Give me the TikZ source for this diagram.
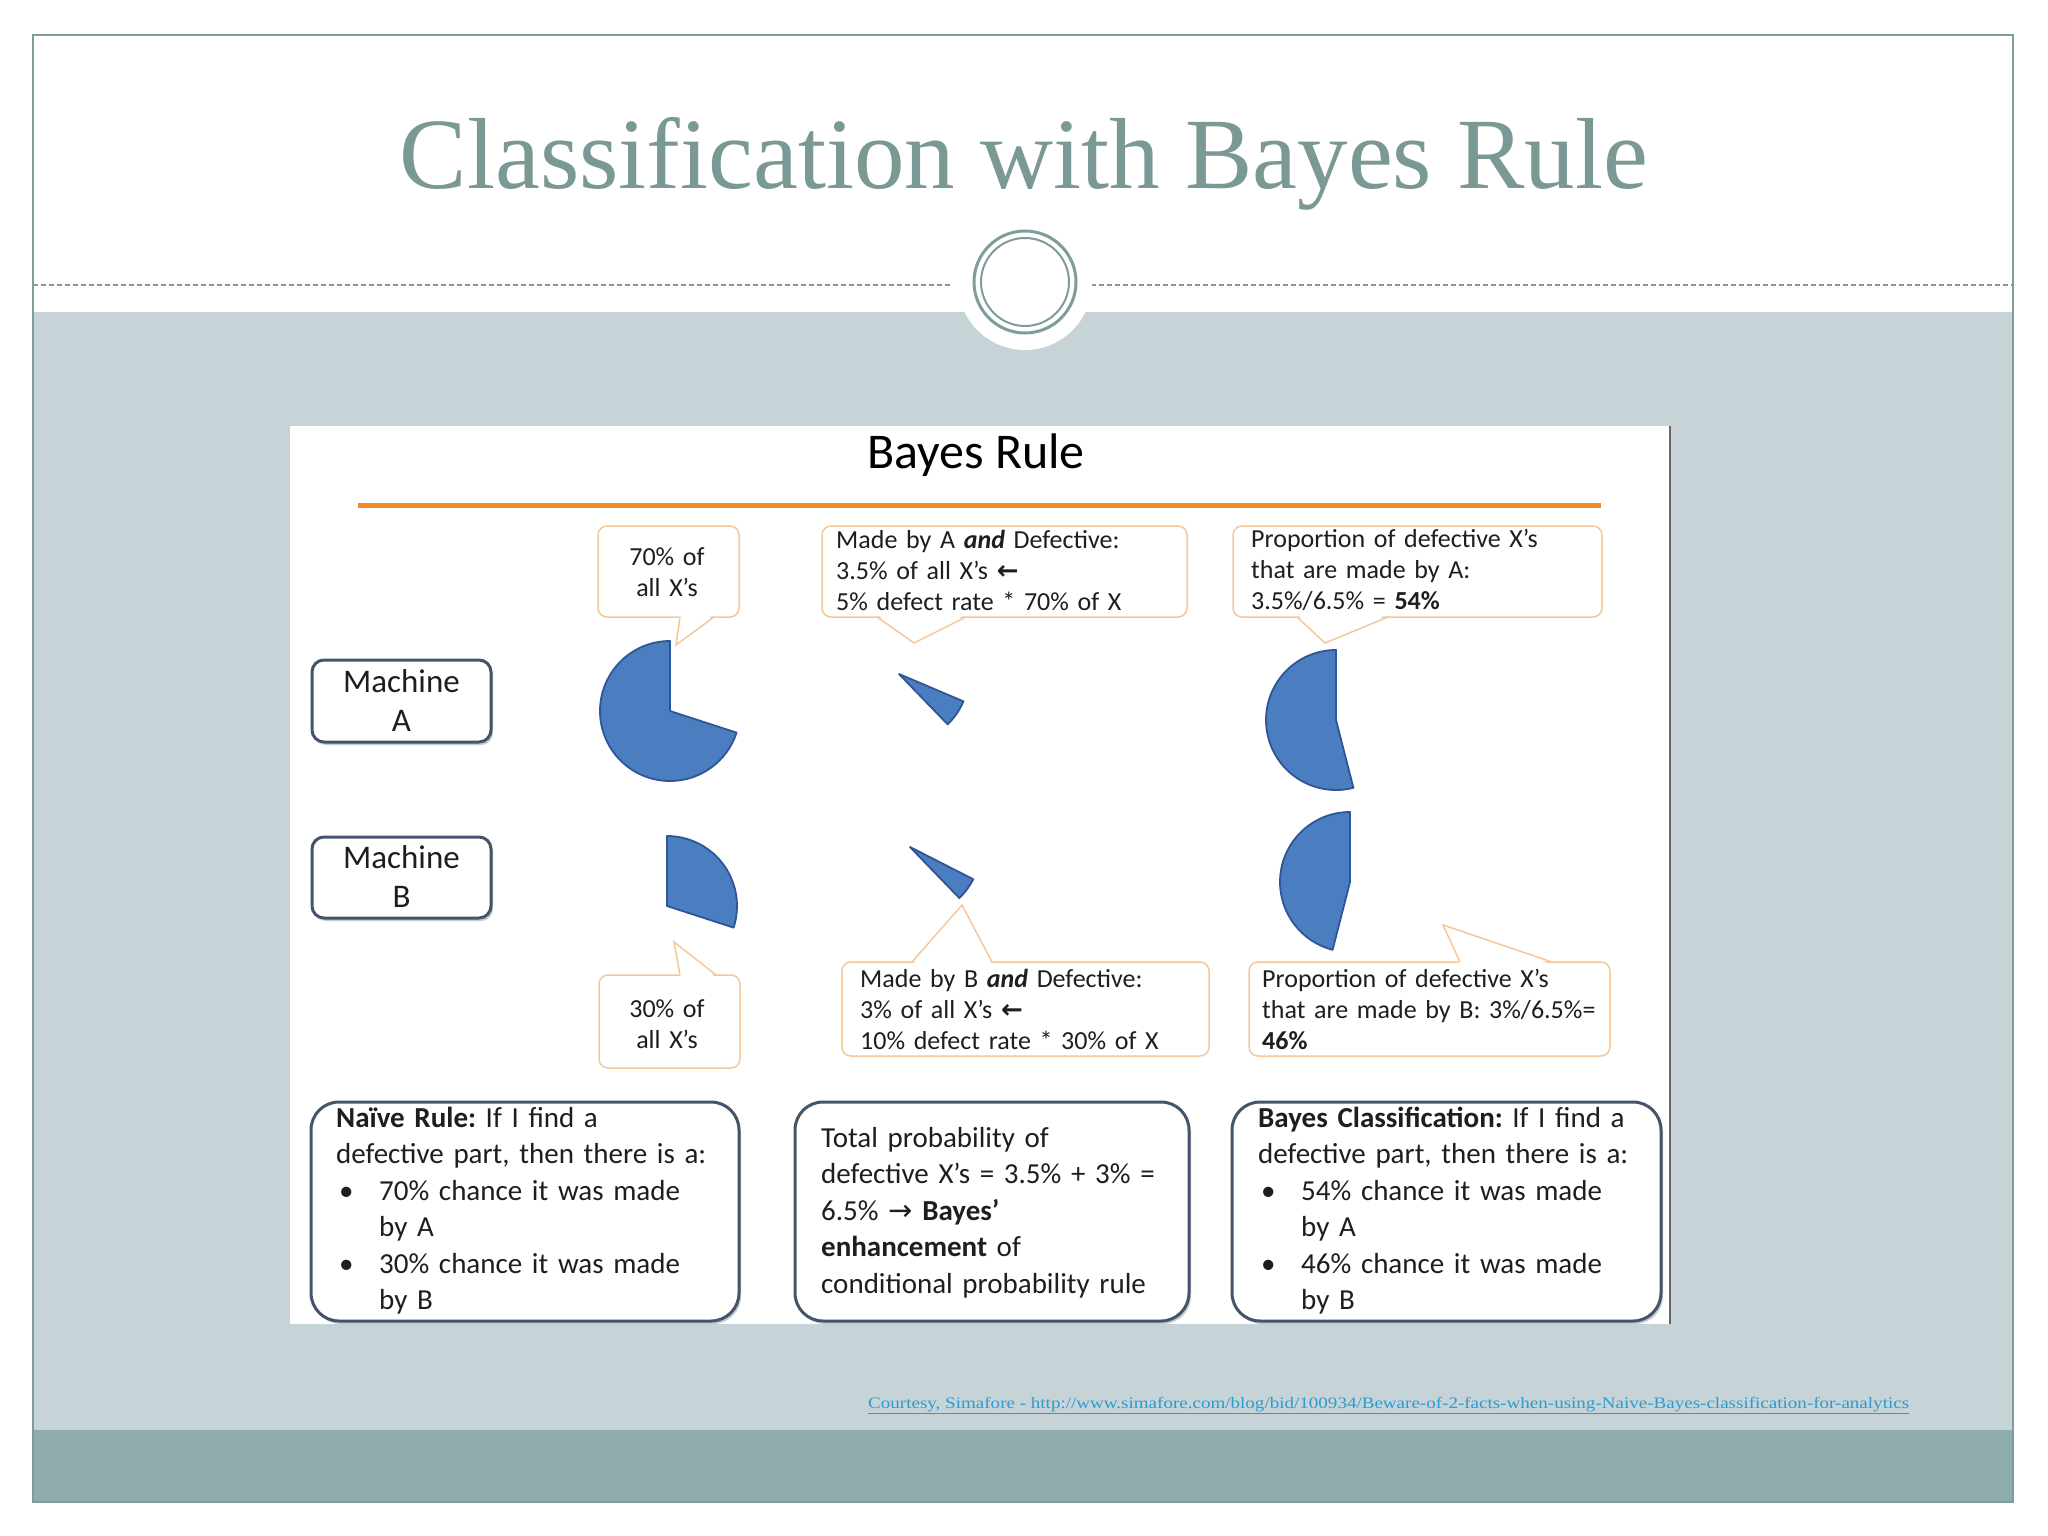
\documentclass[tikz,border=0pt]{standalone}
\usepackage{fontspec}
\setmainfont{Carlito}
\newfontfamily\titlefont{Liberation Serif}
\newfontfamily\linkfont{Liberation Serif}
\newfontfamily\symfont{DejaVu Sans}
\usetikzlibrary{calc,shadows}
\definecolor{slideline}{HTML}{7E9D9A}
\definecolor{titlecol}{HTML}{7A9894}
\definecolor{bodygray}{HTML}{C6D3D7}
\definecolor{bandgray}{HTML}{8FADAD}
\definecolor{pieblue}{HTML}{4A7EC1}
\definecolor{piedark}{HTML}{2F5597}
\definecolor{boxline}{HTML}{44546A}
\definecolor{callline}{HTML}{F5C89C}
\definecolor{orangeline}{HTML}{F28A25}
\definecolor{linkblue}{HTML}{2B9BD4}
\definecolor{txtcol}{HTML}{1E1E1E}
\newcommand\blt{\makebox[43pt][l]{\hspace{3pt}•}}
\newcommand\ind{\hspace*{43pt}}
\newcommand\larr{{\symfont\bfseries ←}}
\newcommand\rarr{{\symfont →}}
\frenchspacing
\begin{document}
\begin{tikzpicture}[x=1pt,y=-1pt,
  pie/.style={fill=pieblue, draw=piedark, line width=1.8pt, line join=round},
  shad/.style={drop shadow={shadow xshift=2pt, shadow yshift=-3pt, opacity=0.35, fill=black!60}},
  mbox/.style={draw=boxline, line width=3pt, rounded corners=12pt, fill=white, inner sep=0pt, shad},
  bbox/.style={draw=boxline, line width=3pt, rounded corners=28pt, fill=white, inner sep=0pt, shad},
  cbox/.style={draw=callline, line width=1.5pt, rounded corners=9pt, fill=white, inner sep=0pt},
  cptr/.style={draw=callline, line width=1.5pt, line join=miter},
  txt/.style={inner sep=0pt, text=txtcol},
  ctxt/.style={txt, font=\fontsize{26}{31}\selectfont},
  btxt/.style={txt, font=\fontsize{29}{36.5}\selectfont},
]
\useasboundingbox (0,0) rectangle (2048,1536);
\fill[white] (0,0) rectangle (2048,1536);
% slide background
\fill[bodygray] (33,312) rectangle (2013,1430);
\fill[bandgray] (33,1430) rectangle (2013,1502);
\draw[slideline, line width=2.5pt] (33,35) rectangle (2013,1502);
\draw[slideline, line width=1.5pt, dash pattern=on 5pt off 3pt] (33,285) -- (951,285);
\draw[slideline, line width=1.5pt, dash pattern=on 5pt off 3pt] (1091,285) -- (2013,285);
\fill[white] (1025,283) circle[radius=67];
\draw[slideline, line width=3pt] (1025,282) circle[radius=51];
\draw[slideline, line width=2pt] (1025,282) circle[radius=44];
\node[anchor=base, inner sep=0pt, text=titlecol, font=\titlefont\fontsize{101}{110}\selectfont] (title) at (1024,189) {Classification with Bayes Rule};

% inner picture
\fill[white] (290,426) rectangle (1670,1324);
\draw[black!60, line width=2pt] (1670,426) -- (1670,1324);
\node[anchor=base, inner sep=0pt, text=black, font=\fontsize{50}{60}\selectfont] (head) at (976,468) {Bayes Rule};
\draw[orangeline, line width=5pt] (358,505) -- (1601,505);

% machine boxes
\node[mbox, minimum width=179pt, minimum height=82pt] (mA) at (401.5,701) {};
\node[txt, text width=179pt, align=center, anchor=base, font=\fontsize{33}{39}\selectfont] (mAt) at (401.5,692) {Machine\\A};
\node[mbox, minimum width=179pt, minimum height=81pt] (mB) at (401.5,877.5) {};
\node[txt, text width=179pt, align=center, anchor=base, font=\fontsize{33}{39}\selectfont] (mBt) at (401.5,868) {Machine\\B};

% pies
\filldraw[pie] (670,711) -- ++(-90:70) arc[start angle=-90, end angle=-342, radius=70] -- cycle;
\filldraw[pie] (667,906) -- ++(-90:70) arc[start angle=-90, end angle=18, radius=70] -- cycle;
\filldraw[pie] (899,674) -- ++(23:70) arc[start angle=23, end angle=46, radius=70] -- cycle;
\filldraw[pie] (910,847) -- ++(27:71) arc[start angle=27, end angle=46, radius=71] -- cycle;
\filldraw[pie] (1336,720) -- ++(-90:70) arc[start angle=-90, end angle=-284.4, radius=70] -- cycle;
\filldraw[pie] (1350,882) -- ++(-90:70) arc[start angle=-90, end angle=-255.6, radius=70] -- cycle;

% callout 1
\node[cbox, minimum width=141pt, minimum height=91pt] (c1) at (668.5,571.5) {};
\coordinate (c1tip) at (676,645);
\fill[white] (680,614) -- (c1tip) -- (714,614) -- cycle;
\draw[cptr] (680,617) -- (c1tip) -- (714,617);
\node[ctxt, text width=141pt, align=center, anchor=base] (c1t) at (667,565) {70\% of\\all X’s};

% callout 2
\node[cbox, minimum width=365pt, minimum height=91pt] (c2) at (1004.5,571.5) {};
\coordinate (c2tip) at (914,643);
\fill[white] (877,614) -- (c2tip) -- (966,614) -- cycle;
\draw[cptr] (877,617) -- (c2tip) -- (966,617);
\node[ctxt, text width=345pt, align=left, anchor=base west] (c2t) at (836,548) {Made by A \textbf{\textit{and}} Defective:\\3.5\% of all X’s \larr\\5\% defect rate * 70\% of X};

% callout 3
\node[cbox, minimum width=369pt, minimum height=91pt] (c3) at (1417.5,571.5) {};
\coordinate (c3tip) at (1325,643);
\fill[white] (1297,614) -- (c3tip) -- (1388,614) -- cycle;
\draw[cptr] (1297,617) -- (c3tip) -- (1388,617);
\node[ctxt, text width=345pt, align=left, anchor=base west] (c3t) at (1251,547) {Proportion of defective X’s\\that are made by A:\\3.5\%/6.5\% = \textbf{54\%}};

% callout 4
\node[cbox, minimum width=141pt, minimum height=93pt] (c4) at (669.5,1021.5) {};
\coordinate (c4tip) at (674,942);
\fill[white] (680,978) -- (c4tip) -- (716,978) -- cycle;
\draw[cptr] (680,975) -- (c4tip) -- (716,975);
\node[ctxt, text width=141pt, align=center, anchor=base] (c4t) at (667,1017) {30\% of\\all X’s};

% callout 5
\node[cbox, minimum width=367pt, minimum height=94pt] (c5) at (1025.5,1009) {};
\coordinate (c5tip) at (962,905);
\fill[white] (912,965) -- (c5tip) -- (992,965) -- cycle;
\draw[cptr] (912,962) -- (c5tip) -- (992,962);
\node[ctxt, text width=345pt, align=left, anchor=base west] (c5t) at (860,987) {Made by B \textbf{\textit{and}} Defective:\\3\% of all X’s \larr\\10\% defect rate * 30\% of X};

% callout 6
\node[cbox, minimum width=361pt, minimum height=94pt] (c6) at (1429.5,1009) {};
\coordinate (c6tip) at (1443,925);
\fill[white] (1460,965) -- (c6tip) -- (1552,965) -- cycle;
\draw[cptr] (1460,962) -- (c6tip) -- (1552,962);
\node[ctxt, text width=345pt, align=left, anchor=base west] (c6t) at (1262,987) {Proportion of defective X’s\\that are made by B: 3\%/6.5\%=\\\textbf{46\%}};

% bottom boxes
\node[bbox, minimum width=428pt, minimum height=219pt] (b1) at (525,1211.5) {};
\node[btxt, text width=400pt, align=left, anchor=base west] (b1t) at (336,1127) {\textbf{Naïve Rule:} If I find a\\defective part, then there is a:\\\blt 70\% chance it was made\\\ind by A\\\blt 30\% chance it was made\\\ind by B};
\node[bbox, minimum width=394pt, minimum height=219pt] (b2) at (992,1211.5) {};
\node[btxt, text width=370pt, align=left, anchor=base west] (b2t) at (821,1147) {Total probability of\\defective X’s = 3.5\% + 3\% =\\6.5\% \rarr\ \textbf{Bayes’}\\\textbf{enhancement} of\\conditional probability rule};
\node[bbox, minimum width=429pt, minimum height=219pt] (b3) at (1446.5,1211.5) {};
\node[btxt, text width=400pt, align=left, anchor=base west] (b3t) at (1258,1127) {\textbf{Bayes Classification:} If I find a\\defective part, then there is a:\\\blt 54\% chance it was made\\\ind by A\\\blt 46\% chance it was made\\\ind by B};

% link
\node[anchor=base west, inner sep=0pt, text=linkblue, font=\linkfont\fontsize{16}{19}\selectfont] (link) at (868,1408) {\scalebox{1.19}[1]{\underline{Courtesy, Simafore - http://www.simafore.com/blog/bid/100934/Beware-of-2-facts-when-using-Naive-Bayes-classification-for-analytics}}};
\end{tikzpicture}
\end{document}
